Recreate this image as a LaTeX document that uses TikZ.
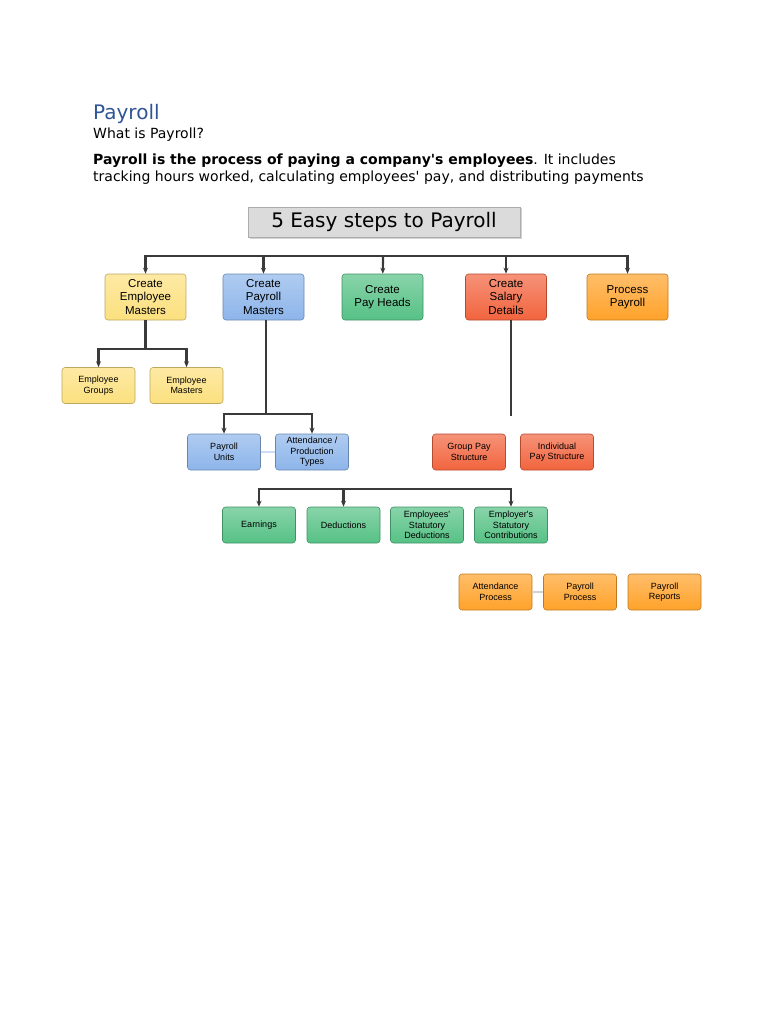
\documentclass[tikz,border=0pt]{standalone}
\usepackage{fontspec}
\setmainfont{DejaVu Sans}
\newfontfamily\boxfont{Liberation Sans}
\usetikzlibrary{positioning,arrows.meta,shadows}
\definecolor{headblue}{HTML}{2F5597}
\definecolor{stepyellow}{HTML}{FCE07E}
\definecolor{stepblue}{HTML}{8DB5EA}
\definecolor{stepgreen}{HTML}{56C185}
\definecolor{stepred}{HTML}{F2643E}
\definecolor{steporange}{HTML}{FFA22A}
\definecolor{linkgray}{HTML}{3A3A3A}

\begin{document}
\begin{tikzpicture}[x=1pt,y=-1pt,
  every node/.style={inner sep=0pt},
  txt/.style={anchor=base west,font=\fontsize{14}{17}\selectfont},
  stepbox/.style={draw=#1!75!black,line width=0.6pt,rounded corners=3pt,
                  top color=#1!70!white,bottom color=#1,align=center,
                  minimum width=81pt,minimum height=46pt,
                  font=\boxfont\fontsize{11.5}{13.5}\selectfont},
  subbox/.style={stepbox=#1,minimum width=73pt,minimum height=36pt,
                 font=\boxfont\fontsize{9}{10.5}\selectfont},
  wire/.style={draw=linkgray,line width=2.2pt},
  link/.style={wire,-{Stealth[length=6pt,width=5pt]}},
  faint/.style={draw=#1,line width=2pt}]
\useasboundingbox (0,0) rectangle (768,1024);

% heading and intro text
\node[txt,font=\fontsize{20}{24}\selectfont,text=headblue] (head) at (93,120) {Payroll};
\node[txt] (quest) at (93,139) {What is Payroll?};
\node[txt] (def1) at (93,165) {\textbf{Payroll is the process of paying a company\textquotesingle s employees}. It includes};
\node[txt] (def2) at (93,182) {tracking hours worked, calculating employees\textquotesingle\ pay, and distributing payments};

% title bar
\node[draw=gray!65,fill=gray!28,minimum width=272pt,minimum height=30pt,
      drop shadow={opacity=0.35,shadow xshift=1.5pt,shadow yshift=-1.5pt},
      font=\fontsize{20}{22}\selectfont] (title) at (384,222) {5 Easy steps to Payroll};

% five steps
\node[stepbox=stepyellow] (cem) at (145.5,297) {Create\\Employee\\Masters};
\node[stepbox=stepblue]   (cpm) at (263.5,297) {Create\\Payroll\\Masters};
\node[stepbox=stepgreen]  (cph) at (382.5,297) {Create\\Pay Heads};
\node[stepbox=stepred]    (csd) at (506,297)   {Create\\Salary\\Details};
\node[stepbox=steporange] (pp)  at (627.5,297) {Process\\Payroll};

\coordinate (topbus) at (383,256);
\draw[link] (topbus) -| (cem);
\draw[link] (topbus) -| (cpm);
\draw[link] (topbus) -- (cph);
\draw[link] (topbus) -| (csd);
\draw[link] (topbus) -| (pp);

% employee masters
\node[subbox=stepyellow] (egrp) at (98.5,385.5)  {Employee\\Groups};
\node[subbox=stepyellow] (emst) at (186.5,385.5) {Employee\\Masters};
\coordinate (empbus) at (145.5,349);
\draw[wire] (cem) -- (empbus);
\draw[link] (empbus) -| (egrp);
\draw[link] (empbus) -| (emst);

% payroll masters
\node[subbox=stepblue] (punit) at (224,452) {Payroll\\Units};
\node[subbox=stepblue] (atype) at (312,452) {Attendance /\\Production\\Types};
\coordinate (paybus) at (266,414);
\draw[wire] (cpm.south -| paybus) -- (paybus);
\draw[link] (paybus) -| (punit);
\draw[link] (paybus) -| (atype);
\draw[faint=stepblue!45] (punit.east) -- (atype.west);

% salary details
\node[subbox=stepred] (gpay) at (469,452) {Group Pay\\Structure};
\node[subbox=stepred] (ipay) at (557,452) {Individual\\Pay Structure};
\coordinate (salbus) at (511,416);
\draw[wire] (csd.south -| salbus) -- (salbus);

% pay heads
\node[subbox=stepgreen] (earn) at (259,525)   {Earnings};
\node[subbox=stepgreen] (dedu) at (343.5,525) {Deductions};
\node[subbox=stepgreen] (esd)  at (427,525)   {Employees\textquotesingle\\Statutory\\Deductions};
\node[subbox=stepgreen] (esc)  at (511,525)   {Employer\textquotesingle s\\Statutory\\Contributions};
\coordinate (headbus) at (383,489);
\draw[link] (headbus) -| (earn);
\draw[link] (headbus) -| (dedu);
\draw[link] (headbus) -| (esc);

% process payroll
\node[subbox=steporange] (attp) at (495.5,592) {Attendance\\Process};
\node[subbox=steporange] (payp) at (580,592)   {Payroll\\Process};
\node[subbox=steporange] (repo) at (664.5,592) {Payroll\\Reports};
\draw[faint=gray!35] (attp.east) -- (payp.west);
\end{tikzpicture}
\end{document}
